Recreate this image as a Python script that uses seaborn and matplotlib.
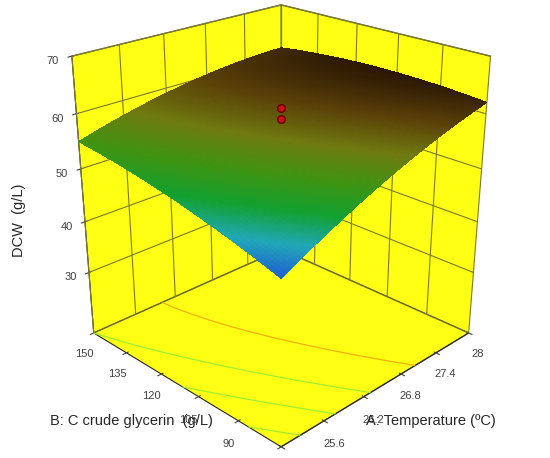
import numpy as np
import matplotlib
matplotlib.use('Agg')
import matplotlib.pyplot as plt
import seaborn as sns
from matplotlib.colors import LinearSegmentedColormap

sns.set_style('white')
plt.rcParams['font.family'] = ['Liberation Sans', 'DejaVu Sans']

# axis ticks
temp_ticks = [25, 25.6, 26.2, 26.8, 27.4, 28]
glyc_ticks = [75, 90, 105, 120, 135, 150]
dcw_ticks = [30, 40, 50, 60, 70]

b0, bA, bB, bAB, bAA, bBB = 59.0, 5.375, 1.875, -2.125, -1.5, -1.125
# centre points
center_temp = [26.5, 26.5]
center_glyc = [112.5, 112.5]
center_dcw = [61.0, 59.0]
# contour levels shown on the floor
floor_levels = [48.8, 52.0, 55.0, 58.5]
floor_colors = ['#a0ee30', '#a0ee30', '#a0ee30', '#f0b000']

zmin, zmax = 17.5, 70

A = np.linspace(25, 28, 80)
B = np.linspace(75, 150, 80)
AA, BB = np.meshgrid(A, B)
xa = (AA - 26.5) / 1.5
xb = (BB - 112.5) / 37.5
Z = b0 + bA*xa + bB*xb + bAB*xa*xb + bAA*xa**2 + bBB*xb**2

cmap = LinearSegmentedColormap.from_list('de', ['#1f5fd0', '#20a8b8', '#12a030', '#3f9412',
                                                '#6f7a10', '#5a4008', '#2a1604'])

fig = plt.figure(figsize=(5.5, 4.58), dpi=100)
ax = fig.add_axes([0.0, 0.045, 1.0, 1.0], projection='3d', computed_zorder=False)
ax.set_proj_type('persp', focal_length=0.45)
ax.set_box_aspect((1, 1, 1.08), zoom=1.055)
ax.view_init(elev=24, azim=-135)

pane = '#ffff14'
for axis in (ax.xaxis, ax.yaxis, ax.zaxis):
    axis.set_pane_color(pane)
    axis.pane.set_edgecolor('#6b6b30')
ax.grid(False)

# wall grid lines
gc = '#7a7a30'
for t in temp_ticks:
    ax.plot([t, t], [150, 150], [zmin, zmax], color=gc, lw=0.8, zorder=1)
for g in glyc_ticks:
    ax.plot([28, 28], [g, g], [zmin, zmax], color=gc, lw=0.8, zorder=1)
for z in dcw_ticks:
    ax.plot([25, 28], [150, 150], [z, z], color=gc, lw=0.8, zorder=1)
    ax.plot([28, 28], [75, 150], [z, z], color=gc, lw=0.8, zorder=1)

# floor contours
ax.contour(AA, BB, Z, levels=floor_levels, zdir='z', offset=zmin,
           colors=floor_colors, linewidths=0.9, zorder=1)

ax.plot_surface(AA, BB, Z, cmap=cmap, vmin=Z.min(), vmax=Z.max(),
                rstride=1, cstride=1, linewidth=0, antialiased=False, shade=False, zorder=2)
ax.scatter(center_temp, center_glyc, center_dcw, color='#d01010', s=30,
           edgecolor='#600000', depthshade=False, zorder=3)

ax.set_xlim(25, 28)
ax.set_ylim(75, 150)
ax.set_zlim(zmin, zmax)
ax.set_xticks(temp_ticks)
ax.set_xticklabels([str(t) for t in temp_ticks])
ax.set_yticks(glyc_ticks)
ax.set_zticks(dcw_ticks)
ax.tick_params(labelsize=8, colors='#404040', pad=0)

fig.text(0.035, 0.52, 'DCW  (g/L)', rotation=90, fontsize=10.5, ha='center', va='center')
fig.text(0.09, 0.08, 'B: C crude glycerin  (g/L)', fontsize=10.5, ha='left', va='center')
fig.text(0.665, 0.08, 'A: Temperature (ºC)', fontsize=10.5, ha='left', va='center')

fig.savefig('out.png', dpi=100)
